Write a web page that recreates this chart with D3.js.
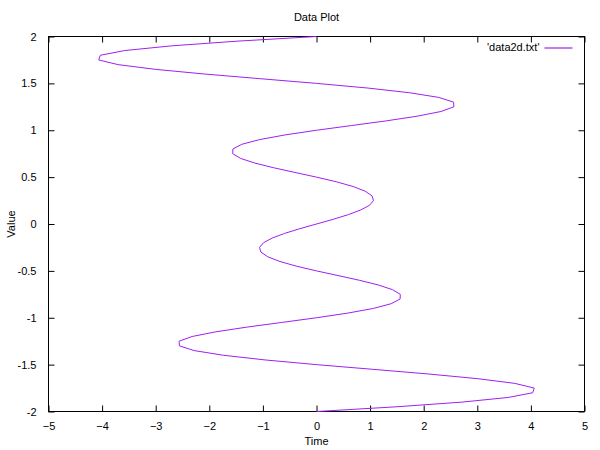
<!DOCTYPE html>
<html>
<head>
<meta charset="utf-8">
<script src="https://cdn.jsdelivr.net/npm/d3@7"></script>
<style>
  body { margin: 0; background: #fff; }
  text { font-family: "Liberation Sans", Arial, sans-serif; font-size: 11px; fill: #000; }
  .axis path { display: none; }
  .axis line { stroke: #000; }
</style>
</head>
<body>
<script>
"use strict";

// values (Time = x, Value = y)
var values = [-2, -1.95, -1.9, -1.85, -1.8, -1.75, -1.7, -1.65, -1.6, -1.55, -1.5,
  -1.45, -1.4, -1.35, -1.3, -1.25, -1.2, -1.15, -1.1, -1.05, -1,
  -0.95, -0.9, -0.85, -0.8, -0.75, -0.7, -0.65, -0.6, -0.55, -0.5,
  -0.45, -0.4, -0.35, -0.3, -0.25, -0.2, -0.15, -0.1, -0.05, 0,
  0.05, 0.1, 0.15, 0.2, 0.25, 0.3, 0.35, 0.4, 0.45, 0.5,
  0.55, 0.6, 0.65, 0.7, 0.75, 0.8, 0.85, 0.9, 0.95, 1,
  1.05, 1.1, 1.15, 1.2, 1.25, 1.3, 1.35, 1.4, 1.45, 1.5,
  1.55, 1.6, 1.65, 1.7, 1.75, 1.8, 1.85, 1.9, 1.95, 2];
var times = [0, 1.484, 2.710, 3.578, 4.033, 4.063, 3.700, 3.011, 2.093, 1.051, 0,
  -0.959, -1.740, -2.283, -2.558, -2.563, -2.321, -1.879, -1.299, -0.650, 0,
  0.588, 1.064, 1.394, 1.560, 1.563, 1.417, 1.151, 0.799, 0.402, 0,
  -0.372, -0.682, -0.908, -1.037, -1.063, -0.989, -0.827, -0.594, -0.310, 0,
  0.310, 0.594, 0.827, 0.989, 1.063, 1.037, 0.908, 0.682, 0.372, 0,
  -0.402, -0.799, -1.151, -1.417, -1.563, -1.560, -1.394, -1.064, -0.588, 0,
  0.650, 1.299, 1.879, 2.321, 2.563, 2.558, 2.283, 1.740, 0.959, 0,
  -1.051, -2.093, -3.011, -3.700, -4.063, -4.033, -3.578, -2.710, -1.484, 0];

var xTicks = [-5, -4, -3, -2, -1, 0, 1, 2, 3, 4, 5];
var yTicks = [-2, -1.5, -1, -0.5, 0, 0.5, 1, 1.5, 2];
var seriesName = "'data2d.txt'";
var lineColor = "#a020f0";

var margin = {top: 36.5, right: 15.5, bottom: 38.5, left: 48.5},
    width = 600 - margin.left - margin.right,
    height = 450 - margin.top - margin.bottom;

var xScale = d3.scaleLinear().domain([-5, 5]).range([0, width]);
var yScale = d3.scaleLinear().domain([-2, 2]).range([height, 0]);

var svg = d3.select("body").append("svg")
    .attr("width", 600)
    .attr("height", 450);

var view = svg.append("g")
    .attr("transform", "translate(" + margin.left + "," + margin.top + ")");

// ticks on all four sides, pointing inward
view.append("g").attr("class", "axis")
    .attr("transform", "translate(0," + height + ")")
    .call(d3.axisBottom(xScale).tickValues(xTicks).tickSize(-6).tickPadding(11)
      .tickFormat(d3.format("d")));
view.append("g").attr("class", "axis")
    .call(d3.axisTop(xScale).tickValues(xTicks).tickSize(-6).tickFormat(""));
view.append("g").attr("class", "axis")
    .call(d3.axisLeft(yScale).tickValues(yTicks).tickSize(-6).tickPadding(12)
      .tickFormat(function(d){ return String(d); }));
view.append("g").attr("class", "axis")
    .attr("transform", "translate(" + width + ",0)")
    .call(d3.axisRight(yScale).tickValues(yTicks).tickSize(-6).tickFormat(""));

view.append("rect")
    .attr("width", width)
    .attr("height", height)
    .attr("fill", "none")
    .attr("stroke", "#000");

var line = d3.line()
    .x(function(d, i) { return xScale(times[i]); })
    .y(function(d) { return yScale(d); });

view.append("path")
    .datum(values)
    .attr("d", line)
    .attr("fill", "none")
    .attr("stroke", lineColor)
    .attr("stroke-width", 1);

// legend
view.append("text")
    .attr("x", width - 45)
    .attr("y", 11)
    .attr("dy", "0.35em")
    .attr("text-anchor", "end")
    .text(seriesName);
view.append("line")
    .attr("x1", width - 40).attr("x2", width - 12)
    .attr("y1", 11.5).attr("y2", 11.5)
    .attr("stroke", lineColor)
    .attr("stroke-width", 1.2);

// titles
svg.append("text")
    .attr("x", margin.left + width / 2)
    .attr("y", 21)
    .attr("text-anchor", "middle")
    .text("Data Plot");
svg.append("text")
    .attr("x", margin.left + width / 2)
    .attr("y", 445)
    .attr("text-anchor", "middle")
    .text("Time");
svg.append("text")
    .attr("transform", "translate(15," + (margin.top + height / 2) + ") rotate(-90)")
    .attr("text-anchor", "middle")
    .text("Value");
</script>
</body>
</html>
